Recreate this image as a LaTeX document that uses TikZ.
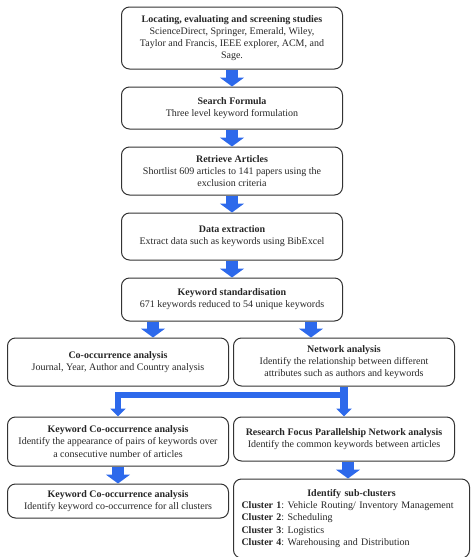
\documentclass[tikz,border=0pt]{standalone}
\usepackage{fontspec}
\setmainfont{Liberation Serif}
\usetikzlibrary{arrows.meta,positioning}
\definecolor{flowblue}{RGB}{45,105,235}

\begin{document}
\begin{tikzpicture}[x=1pt,y=1pt,node distance=17pt,
  box/.style={draw=black!80,line width=1pt,rounded corners=8pt,minimum width=221pt,
    align=center,inner sep=2pt,text=black!85,font=\fontsize{10}{12.2}\selectfont\frenchspacing},
  flow/.style={draw=flowblue,line width=12pt,-{Triangle[length=9pt,width=24pt]}},
  branch/.style={draw=flowblue,line width=6pt,-{Triangle[length=8pt,width=15pt]}}]
  \useasboundingbox (0,0) rectangle (474,-557);
  \node[box,minimum height=62pt] (locate) at (232,-38) {\textbf{Locating, evaluating and screening studies}\\
    ScienceDirect, Springer, Emerald, Wiley,\\ Taylor and Francis, IEEE explorer, ACM, and\\ Sage.};
  \node[box,minimum height=42pt] (search) [below=of locate] {\textbf{Search Formula}\\ Three level keyword formulation};
  \node[box,minimum height=48pt] (retrieve) [below=of search] {\textbf{Retrieve Articles}\\
    Shortlist 609 articles to 141 papers using the\\ exclusion criteria};
  \node[box,minimum height=47pt] (extract) [below=of retrieve] {\textbf{Data extraction}\\ Extract data such as keywords using BibExcel};
  \node[box,minimum height=43pt] (keystd) [below=of extract] {\textbf{Keyword standardisation}\\ 671 keywords reduced to 54 unique keywords};

  \node[box,minimum height=48pt] (cooc) [below=16pt of keystd, xshift=-114pt] {\textbf{Co-occurrence analysis}\\ Journal, Year, Author and Country analysis};
  \node[box,minimum height=48pt] (network) [below=16pt of keystd, xshift=112pt] {\textbf{Network analysis}\\
    Identify the relationship between different\\ attributes such as authors and keywords};

  \node[box,minimum height=49pt] (kwco) [below=30pt of cooc] {\textbf{Keyword Co-occurrence analysis}\\
    Identify the appearance of pairs of keywords over\\ a consecutive number of articles};
  \node[box,minimum height=44pt] (rfpn) [below=30pt of network] {\textbf{Research Focus Parallelship Network analysis}\\
    Identify the common keywords between articles};
  \node[box,minimum height=34pt] (kwall) [below=of kwco] {\textbf{Keyword Co-occurrence analysis}\\ Identify keyword co-occurrence for all clusters};
  \node[box,minimum height=79pt,minimum width=236pt,text width=220pt,inner xsep=8pt,align=left] (subcl)
    [below=of rfpn.south west, anchor=north west] {\makebox[\linewidth][c]{\textbf{Identify sub-clusters}}\\
    \textbf{Cluster 1}: Vehicle Routing/ Inventory Management\\
    \textbf{Cluster 2}: Scheduling\\
    \textbf{Cluster 3}: Logistics\\
    \textbf{Cluster 4}: Warehousing and Distribution};

  \path[flow] (locate) -- (search);
  \path[flow] (search) -- (retrieve);
  \path[flow] (retrieve) -- (extract);
  \path[flow] (extract) -- (keystd);
  \path[flow] ([xshift=-79pt]keystd.south) -- ([xshift=-79pt]keystd.south |- cooc.north);
  \path[flow] ([xshift=79pt]keystd.south) -- ([xshift=79pt]keystd.south |- network.north);
  \path[branch] ([yshift=-8pt]network.south) -| (kwco.north);
  \path[branch,line width=8pt] (network.south) -- (rfpn.north);
  \path[flow] (kwco) -- (kwall);
  \path[flow] ([xshift=4pt]rfpn.south) -- ([xshift=4pt]rfpn.south |- subcl.north);
\end{tikzpicture}
\end{document}
